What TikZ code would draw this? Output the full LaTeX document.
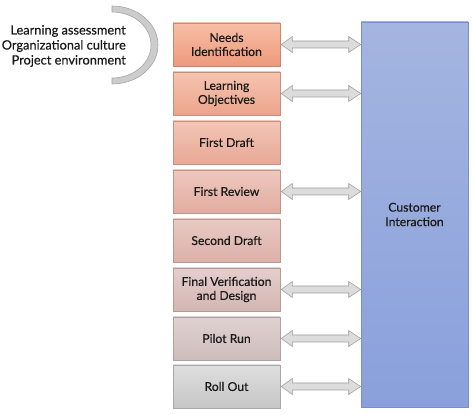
\documentclass[tikz,border=0pt]{standalone}
\usepackage{fontspec}
\setmainfont{Lato}
\newfontfamily\labfont{Lato}[FakeBold=0.4]
\usetikzlibrary{calc}
\definecolor{bA1}{RGB}{248,190,166}\definecolor{bA2}{RGB}{238,154,124}
\definecolor{bB1}{RGB}{246,196,176}\definecolor{bB2}{RGB}{236,164,140}
\definecolor{bC1}{RGB}{243,198,182}\definecolor{bC2}{RGB}{232,168,150}
\definecolor{bD1}{RGB}{238,200,190}\definecolor{bD2}{RGB}{226,172,160}
\definecolor{bE1}{RGB}{232,202,196}\definecolor{bE2}{RGB}{220,176,168}
\definecolor{bF1}{RGB}{228,206,204}\definecolor{bF2}{RGB}{212,182,178}
\definecolor{bG1}{RGB}{224,210,210}\definecolor{bG2}{RGB}{206,188,188}
\definecolor{bH1}{RGB}{222,222,222}\definecolor{bH2}{RGB}{198,198,198}
\definecolor{custT}{RGB}{164,181,224}\definecolor{custB}{RGB}{138,160,220}
\definecolor{custD}{RGB}{120,142,205}
\definecolor{arrF}{RGB}{220,220,220}\definecolor{arrD}{RGB}{160,160,160}
\tikzset{
  stepbox/.style={draw=#1!80!black!90, line width=0.6pt, minimum width=107pt, minimum height=43pt,
    inner sep=0pt, align=center, font=\labfont\fontsize{12.2}{14}\selectfont, text=black!90},
  custbox/.style={draw=custD, line width=0.6pt, top color=custT, bottom color=custB,
    minimum width=107pt, minimum height=385pt, inner sep=0pt, align=center,
    font=\labfont\fontsize{12.2}{14.5}\selectfont, text=black!90},
  dblarrow/.style={fill=arrF, draw=arrD, line width=0.6pt},
  halftext/.style={align=right, font=\labfont\fontsize{12.8}{15}\selectfont, text=black!90, inner sep=0pt},
  arcband/.style={fill=black!20, draw=black!35, line width=0.6pt}
}
\newcommand\dblar[2]{%
  \path let \p1=(#1.east), \p2=(#1.east -| #2.west) in
    [dblarrow] (\x1+1pt,\y1) -- (\x1+12pt,\y1+8pt) -- (\x1+12pt,\y1+3.5pt)
      -- (\x2-12pt,\y1+3.5pt) -- (\x2-12pt,\y1+8pt) -- (\x2,\y1)
      -- (\x2-12pt,\y1-8pt) -- (\x2-12pt,\y1-3.5pt) -- (\x1+12pt,\y1-3.5pt)
      -- (\x1+12pt,\y1-8pt) -- cycle;}
\begin{document}
\begin{tikzpicture}[x=1pt,y=1pt]
\useasboundingbox (0,0) rectangle (474,415);
% arc band
\path[arcband] (112,409) arc[start angle=90, end angle=-90, x radius=46, y radius=39]
  -- (112,337) arc[start angle=-90, end angle=90, x radius=39, y radius=33] -- cycle;
\node[halftext, anchor=east] (ctx) at (126,369) {Learning assessment\\Organizational culture\\Project environment};
% steps
\node[stepbox=bA2, top color=bA1, bottom color=bA2] (b1) at (226.5,370.5) {Needs\\Identification};
\node[stepbox=bB2, top color=bB1, bottom color=bB2] (b2) at (226.5,321.5) {Learning\\Objectives};
\node[stepbox=bC2, top color=bC1, bottom color=bC2] (b3) at (226.5,272.5) {First Draft};
\node[stepbox=bD2, top color=bD1, bottom color=bD2] (b4) at (226.5,223.5) {First Review};
\node[stepbox=bE2, top color=bE1, bottom color=bE2] (b5) at (226.5,174.5) {Second Draft};
\node[stepbox=bF2, top color=bF1, bottom color=bF2] (b6) at (226.5,125.5) {Final Verification\\and Design};
\node[stepbox=bG2, top color=bG1, bottom color=bG2] (b7) at (226.5,76.5) {Pilot Run};
\node[stepbox=bH2, top color=bH1, bottom color=bH2] (b8) at (226.5,28.5) {Roll Out};
\node[custbox] (cust) at (414.5,200.5) {Customer\\Interaction};
% arrows
\dblar{b1}{cust}
\dblar{b2}{cust}
\dblar{b4}{cust}
\dblar{b6}{cust}
\dblar{b7}{cust}
\dblar{b8}{cust}
\end{tikzpicture}
\end{document}
